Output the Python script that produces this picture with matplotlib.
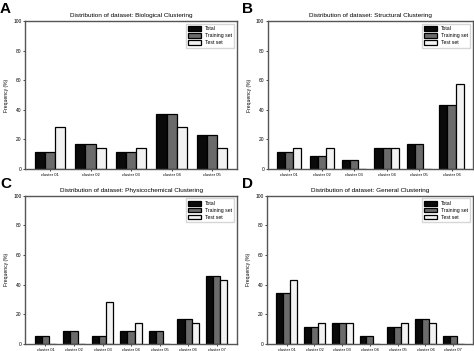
import matplotlib
matplotlib.use("Agg")
import matplotlib.pyplot as plt
import numpy as np

plt.rcParams["font.family"] = ["Liberation Sans", "DejaVu Sans"]

# frequencies (%) per cluster
bio_total = [11.4, 17.1, 11.4, 37.1, 22.9]
bio_train = [11.4, 17.1, 11.4, 37.1, 22.9]
bio_test = [28.6, 14.3, 14.3, 28.6, 14.3]

struct_total = [11.4, 8.6, 5.7, 14.3, 17.1, 42.9]
struct_train = [11.4, 8.6, 5.7, 14.3, 17.1, 42.9]
struct_test = [14.3, 14.3, 0.0, 14.3, 0.0, 57.1]

phys_total = [5.7, 8.6, 5.7, 8.6, 8.6, 17.1, 45.7]
phys_train = [5.7, 8.6, 5.7, 8.6, 8.6, 17.1, 45.7]
phys_test = [0.0, 0.0, 28.6, 14.3, 0.0, 14.3, 42.9]

gen_total = [34.3, 11.4, 14.3, 5.7, 11.4, 17.1, 5.7]
gen_train = [34.3, 11.4, 14.3, 5.7, 11.4, 17.1, 5.7]
gen_test = [42.9, 14.3, 14.3, 0.0, 14.3, 14.3, 0.0]

panels = [
    ("A", "Distribution of dataset: Biological Clustering", bio_total, bio_train, bio_test),
    ("B", "Distribution of dataset: Structural Clustering", struct_total, struct_train, struct_test),
    ("C", "Distribution of dataset: Physicochemical Clustering", phys_total, phys_train, phys_test),
    ("D", "Distribution of dataset: General Clustering", gen_total, gen_train, gen_test),
]

positions = [
    [0.053, 0.519, 0.447, 0.421],
    [0.565, 0.519, 0.433, 0.421],
    [0.053, 0.020, 0.447, 0.422],
    [0.563, 0.020, 0.435, 0.422],
]
letter_pos = [(0.0, 0.995), (0.51, 0.995), (0.0, 0.495), (0.51, 0.495)]

fig = plt.figure(figsize=(4.74, 3.51), dpi=100)
w = 0.25

for (letter, title, tot, tr, te), pos, lp in zip(panels, positions, letter_pos):
    ax = fig.add_axes(pos)
    x = np.arange(len(tot))
    ax.bar(x - w, tot, width=w, color="#0a0a0a", edgecolor="black", linewidth=0.9, label="Total")
    ax.bar(x, tr, width=w, color="#6b6b6b", edgecolor="black", linewidth=0.9, label="Training set")
    ax.bar(x + w, te, width=w, color="#f2f2f2", edgecolor="black", linewidth=0.9, label="Test set")
    ax.set_ylim(0, 100)
    ax.set_yticks([0, 20, 40, 60, 80, 100])
    ax.set_xticks(x)
    ax.set_xticklabels([f"cluster {i + 1:02d}" for i in range(len(tot))], fontsize=3)
    ax.tick_params(axis="y", labelsize=3.5, length=1.5, width=0.5, pad=1)
    ax.tick_params(axis="x", length=1.5, width=0.5, pad=1.5)
    ax.set_ylabel("Frequency (%)", fontsize=3.6, labelpad=3)
    ax.set_title(title, fontsize=4.6, pad=3)
    for sp in ax.spines.values():
        sp.set_color("#555555")
        sp.set_linewidth(1.0)
    ax.legend(loc="upper right", fontsize=3.7, frameon=True, fancybox=False,
              edgecolor="#cccccc", handlelength=2.4, handleheight=1.0,
              borderpad=0.5, labelspacing=0.35)
    fig.text(lp[0], lp[1], letter, fontsize=11, fontweight="bold", ha="left", va="top")

fig.savefig("out.png", dpi=100)
